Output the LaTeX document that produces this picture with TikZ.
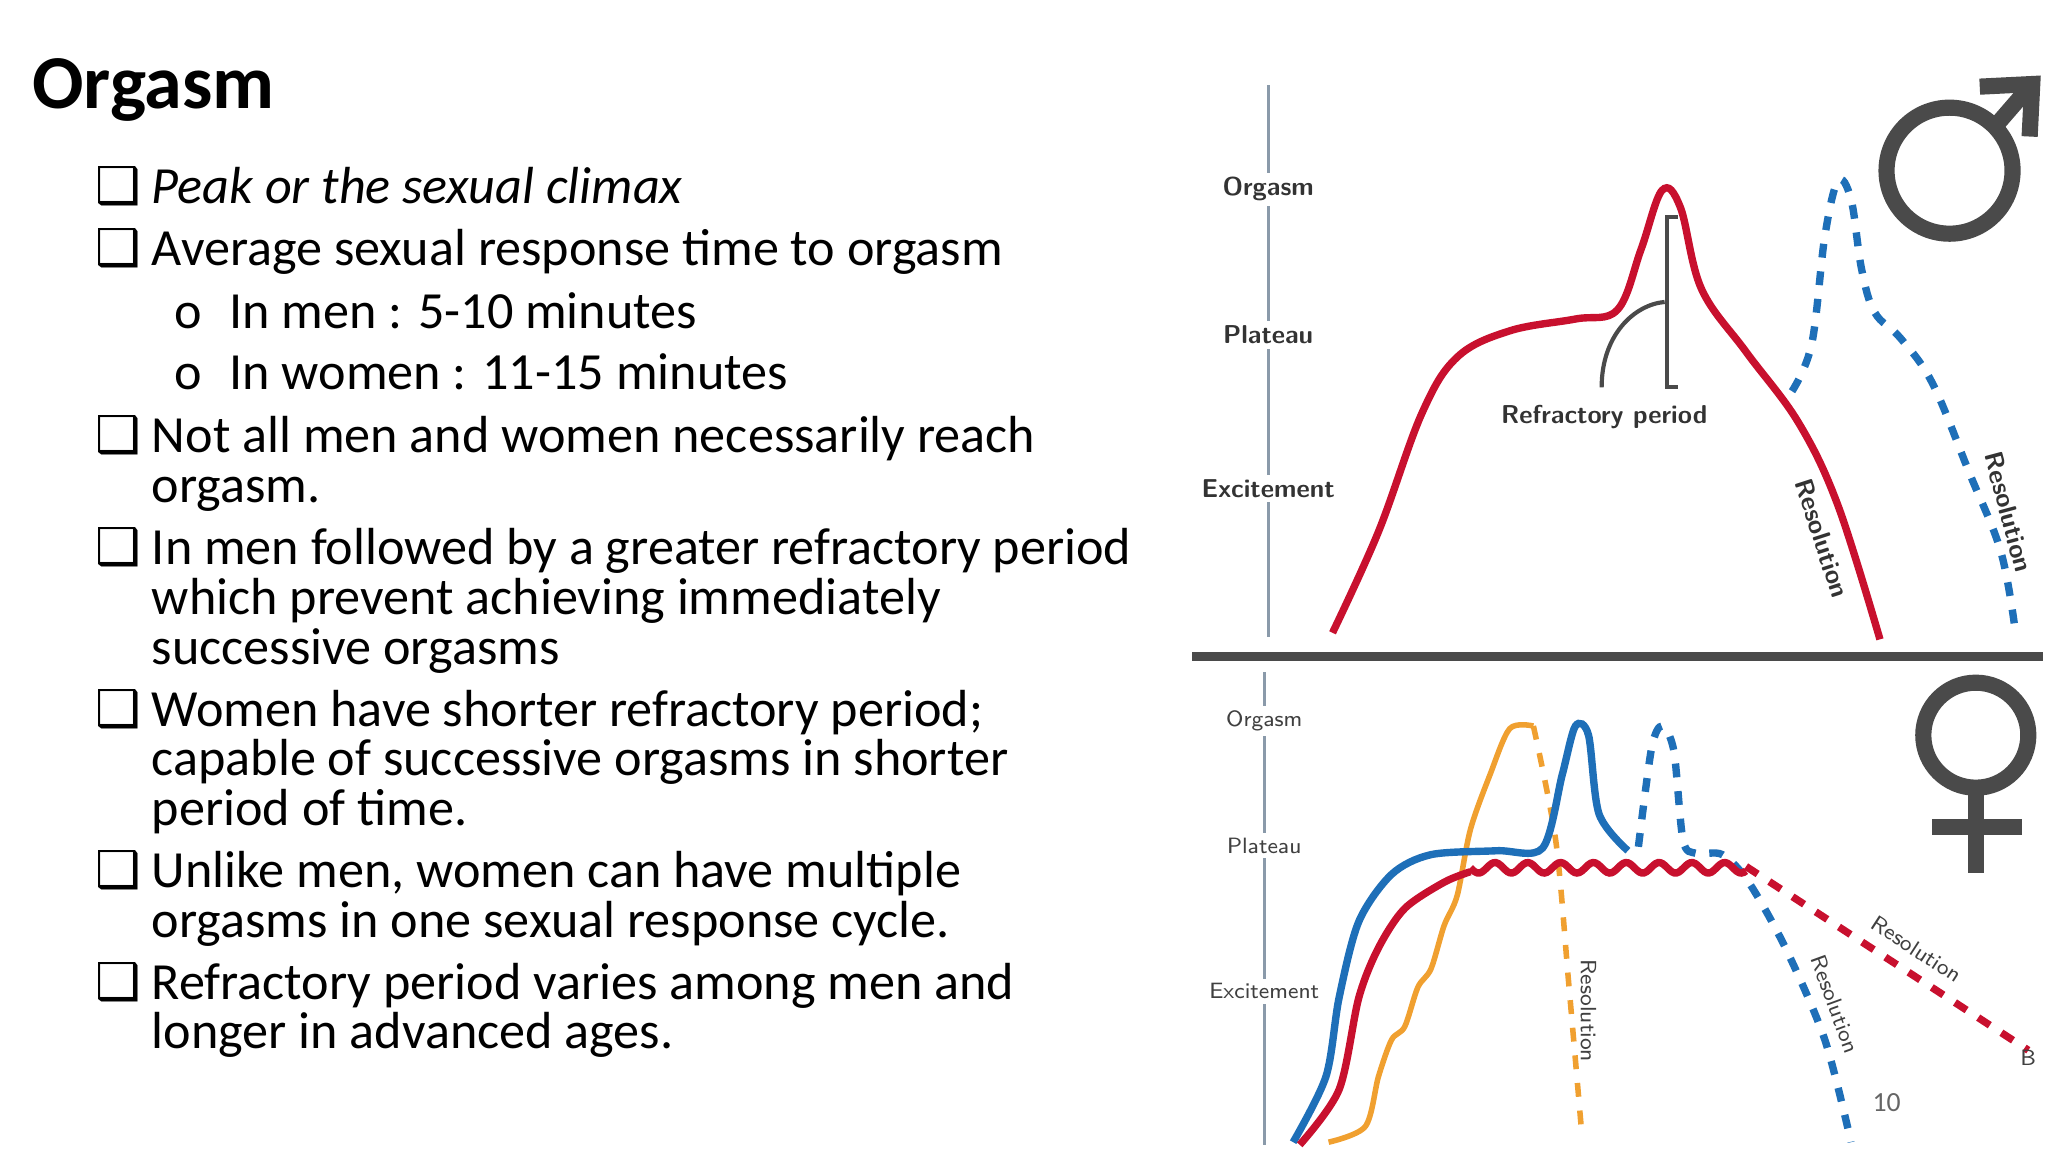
\documentclass[tikz,border=0pt]{standalone}
\usepackage{fontspec}
\setmainfont{Carlito}
\newfontfamily\symfont{DejaVu Sans}
\usetikzlibrary{positioning}
\definecolor{curvered}{HTML}{C8102E}
\definecolor{curveblue}{HTML}{1E6FB8}
\definecolor{curveorange}{HTML}{F0A030}
\definecolor{axisgray}{HTML}{8A9AAA}
\definecolor{symgray}{HTML}{4A4A4A}
\begin{document}
\begin{tikzpicture}[
    x=0.01cm, y=-0.01cm,
    line/.style={anchor=base west,inner sep=0pt,font=\fontsize{11.3}{12}\selectfont},
    box/.style={anchor=base west,inner sep=0pt,font=\symfont\fontsize{11}{12}\selectfont},
    lbl/.style={fill=white,inner sep=1pt,font=\sffamily\bfseries\fontsize{5.6}{6}\selectfont,text=black!80},
    slbl/.style={fill=white,inner sep=1pt,font=\sffamily\fontsize{4.8}{5}\selectfont,text=black!75},
    redc/.style={curvered,line width=1.6pt},
    bluec/.style={curveblue,line width=1.6pt},
    orangec/.style={curveorange,line width=1.2pt}
]
\useasboundingbox (0,0) rectangle (1560,878);

% Title and bullets
\node[anchor=base west,inner sep=0pt,font=\bfseries\fontsize{16.5}{20}\selectfont] (title) at (24,83) {Orgasm};
\foreach \y in {155,202,345,430,553,676,761}
  \node[box] at (72,\y) {❑};
\foreach \y in {250,297}
  \node[line] at (132,\y) {o};
\node[line] (t1) at (115,155) {\itshape Peak or the sexual climax};
\node[line] (t2) at (115,202) {Average sexual response time to orgasm};
\node[line] (t3) at (174,250) {In men : 5-10 minutes};
\node[line] (t4) at (174,297) {In women : 11-15 minutes};
\node[line] (t5) at (115,345) {Not all men and women necessarily reach};
\node[line] (t6) at (115,383) {orgasm.};
\node[line] (t7) at (115,430) {In men followed by a greater refractory period};
\node[line] (t8) at (115,468) {which prevent achieving immediately};
\node[line] (t9) at (115,506) {successive orgasms};
\node[line] (t10) at (115,553) {Women have shorter refractory period;};
\node[line] (t11) at (115,591) {capable of successive orgasms in shorter};
\node[line] (t12) at (115,629) {period of time.};
\node[line] (t13) at (115,676) {Unlike men, women can have multiple};
\node[line] (t14) at (115,714) {orgasms in one sexual response cycle.};
\node[line] (t15) at (115,761) {Refractory period varies among men and};
\node[line] (t16) at (115,799) {longer in advanced ages.};

% Male chart
\draw[axisgray,line width=0.6pt] (966,65) -- (966,485);
\node[lbl] (morg) at (966,144) {Orgasm};
\node[lbl] (mpla) at (966,255) {Plateau};
\node[lbl] (mexc) at (966,372) {Excitement};
\draw[redc] plot[smooth,tension=0.6] coordinates {(1015,482) (1050,405) (1083,315) (1110,272) (1150,252) (1200,243) (1232,236) (1250,190) (1266,145) (1280,158) (1296,220) (1330,268) (1370,322) (1400,385) (1432,487)};
\draw[bluec,dashed] plot[smooth,tension=0.6] coordinates {(1365,298) (1380,262) (1390,180) (1400,138) (1410,152) (1418,205) (1428,238) (1448,258) (1472,292) (1500,360) (1524,420) (1535,480)};
\draw[symgray,line width=0.9pt] (1278,165) -- (1270,165) -- (1270,295) -- (1278,295);
\draw[symgray,line width=0.9pt] (1220,295) .. controls (1220,255) and (1245,232) .. (1268,230);
\node[lbl] (refr) at (1222,318) {Refractory period};
\node[lbl,rotate=-72,fill=none] (mres1) at (1388,410) {Resolution};
\node[lbl,rotate=-75,fill=none] (mres2) at (1530,390) {Resolution};
\draw[symgray,line width=2pt] (908,500) -- (1556,500);
\draw[symgray,line width=3.5pt] (1485,130) circle (48);
\draw[symgray,line width=3.5pt] (1520,96) -- (1546,66);
\draw[symgray,line width=3.5pt] (1508,66) -- (1548,64) -- (1546,104);

% Female chart
\draw[axisgray,line width=0.6pt] (963,512) -- (963,872);
\node[slbl] (forg) at (963,549) {Orgasm};
\node[slbl] (fpla) at (963,644) {Plateau};
\node[slbl] (fexc) at (963,755) {Excitement};
\draw[orangec] plot[smooth,tension=0.5] coordinates {(1012,870) (1040,858) (1050,820) (1060,792) (1070,782) (1080,752) (1090,738) (1100,705) (1110,682) (1120,632) (1135,590) (1150,555) (1168,553)};
\draw[orangec,dashed] plot[smooth,tension=0.5] coordinates {(1168,553) (1185,640) (1195,750) (1205,865)};
\draw[bluec] plot[smooth,tension=0.5] coordinates {(985,870) (1010,820) (1020,760) (1035,702) (1060,666) (1090,651) (1140,648) (1175,646) (1190,590) (1200,553) (1210,560) (1218,620) (1240,648)};
\draw[bluec,dashed] plot[smooth,tension=0.5] coordinates {(1248,645) (1258,570) (1266,553) (1275,572) (1282,640) (1292,650) (1312,651) (1332,672) (1360,722) (1390,792) (1410,870)};
\draw[redc] plot[smooth,tension=0.5] coordinates {(990,872) (1020,830) (1035,760) (1050,722) (1070,692) (1100,672) (1120,664)};
\draw[redc,domain=0:210,samples=120] plot ({1120+\x},{661+4*sin(14.4*\x)});
\draw[redc,dashed] (1330,660) -- (1545,800);
\node[slbl,rotate=-90,fill=none] (fres1) at (1210,770) {Resolution};
\node[slbl,rotate=-70,fill=none] (fres2) at (1398,765) {Resolution};
\node[slbl,rotate=-33,fill=none] (fres3) at (1460,723) {Resolution};
\node[slbl,fill=none] (bmark) at (1545,806) {B};
\draw[symgray,line width=3.5pt] (1505,560) circle (40);
\draw[symgray,line width=3.5pt] (1505,600) -- (1505,665);
\draw[symgray,line width=3.5pt] (1472,630) -- (1540,630);
\node[font=\fontsize{6}{7}\selectfont,text=black!60] (pnum) at (1437,840) {10};
\end{tikzpicture}
\end{document}
